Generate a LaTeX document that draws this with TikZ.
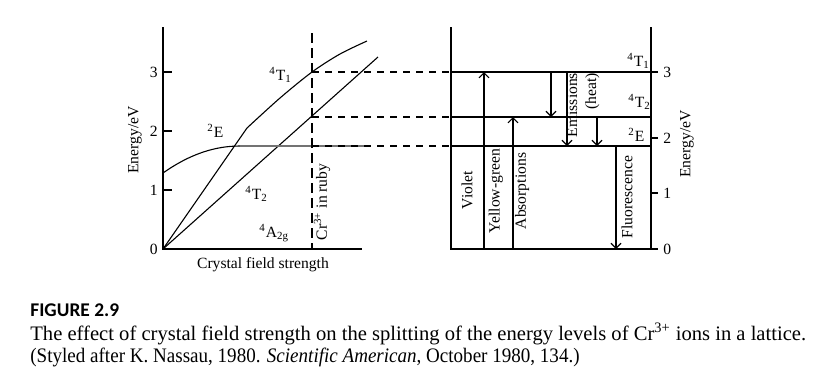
\documentclass[tikz,border=0pt]{standalone}
\usepackage{fontspec}
\setmainfont{Liberation Serif}
\newfontfamily\capfont{Liberation Serif}
\newfontfamily\capfontn{Liberation Serif}[FakeStretch=0.925]
\newfontfamily\figfont{Carlito}
\usetikzlibrary{arrows.meta}

\begin{document}
\begin{tikzpicture}[x=0.5pt, y=-0.5pt,
  lbl/.style={font=\fontsize{7.8}{8.5}\selectfont, inner sep=0pt},
  vlbl/.style={lbl, rotate=90},
  curve/.style={line width=0.55pt},
  level/.style={line width=0.55pt},
  guide/.style={line width=0.55pt, dash pattern=on 3.5pt off 3pt},
  arr/.style={line width=0.55pt, -{Straight Barb[length=2.5pt,width=5pt]}}
]
\useasboundingbox (0,0) rectangle (831,382);

\draw[line width=0.6pt] (163,27) -- (163,249);
\draw[line width=1.3pt] (162,249) -- (362,249);
\foreach \v/\y in {0/249,1/190,2/131,3/72} {
  \draw[level] (163,\y) -- (172,\y);
  \node[lbl, anchor=east] (l\v) at (158,\y) {\v};
}
\node[vlbl] (ylabl) at (135,140) {Energy/eV};
\node[lbl, anchor=base] (xlab) at (263,268) {Crystal field strength};

\draw[curve] (163,249) -- (247,128);
\draw[curve] plot[smooth] coordinates {(247,128) (280,98) (312,72) (340,54) (367,41)};
\draw[curve] (163,249) -- (378,57);
\draw[curve] (163,173) .. controls (190,154) and (215,146) .. (240,146);
\draw[curve, black!55] (240,146) -- (370,146);

\node[lbl, anchor=base west] (t1a) at (269,80) {\textsuperscript{4}T\textsubscript{1}};
\node[lbl, anchor=base west] (ea) at (207,137) {\textsuperscript{2}E};
\node[lbl, anchor=base west] (t2a) at (245,199) {\textsuperscript{4}T\textsubscript{2}};
\node[lbl, anchor=base west] (a2g) at (259,237) {\textsuperscript{4}A\textsubscript{2g}};

\draw[line width=0.6pt, dash pattern=on 5pt off 2.5pt] (312,33) -- (312,249);
\node[vlbl] (ruby) at (322,202) {Cr\textsuperscript{3+} in ruby};
\foreach \y in {72,117,146}
  \draw[guide] (312,\y) -- (451,\y);

\draw[level] (451,27) -- (451,249) -- (651,249) -- (651,27);
\foreach \y in {72,117,146}
  \draw[level] (451,\y) -- (651,\y);
\foreach \v/\y in {0/249,1/193,2/138,3/72} {
  \draw[level] (651,\y) -- (658,\y);
  \node[lbl, anchor=west] (r\v) at (663,\y) {\v};
}
\node[vlbl] (ylabr) at (687,144) {Energy/eV};

\node[lbl, anchor=base west] (t1b) at (627,66) {\textsuperscript{4}T\textsubscript{1}};
\node[lbl, anchor=base west] (t2b) at (628,107) {\textsuperscript{4}T\textsubscript{2}};
\node[lbl, anchor=base west] (eb) at (628,141) {\textsuperscript{2}E};

\draw[arr] (484,249) -- (484,72);
\draw[arr] (513,249) -- (513,117);
\draw[arr] (551,72) -- (551,117);
\draw[arr] (567,72) -- (567,146);
\draw[arr] (597,117) -- (597,146);
\draw[arr] (616,146) -- (616,249);

\node[vlbl] (violet) at (467,190) {Violet};
\node[vlbl] (yellow) at (496,191) {Yellow-green};
\node[vlbl] (absorb) at (522,191) {Absorptions};
\node[vlbl, align=right, font=\fontsize{7.8}{9.5}\selectfont] (emis) at (583,105) {Emissions\\(heat)};
\node[vlbl] (fluor) at (627,197) {Fluorescence};

\node[anchor=base west, inner sep=0pt, font=\fontsize{9.7}{11}\figfont\bfseries] (fig) at (30,316) {FIGURE 2.9};
\node[anchor=base west, inner sep=0pt, font=\fontsize{10.3}{11}\capfont] (cap1) at (30,340) {The effect of crystal field strength on the splitting of the energy levels of Cr\textsuperscript{3+} ions in a lattice.};
\node[anchor=base west, inner sep=0pt, font=\fontsize{10.3}{11}\capfontn] (cap2) at (30,362) {(Styled after K. Nassau, 1980. \textit{Scientific American}, October 1980, 134.)};
\end{tikzpicture}
\end{document}
